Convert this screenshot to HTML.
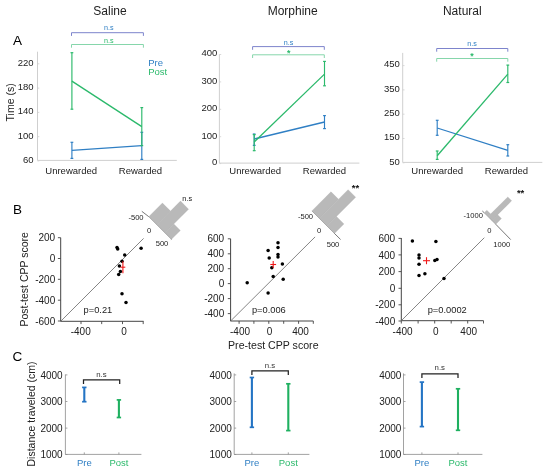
<!DOCTYPE html>
<html><head><meta charset="utf-8"><title>Figure</title>
<style>
html,body{margin:0;padding:0;background:#fff;}
svg{display:block;font-family:"Liberation Sans",Arial,sans-serif;}
</style></head><body>
<svg width="550" height="474" viewBox="0 0 550 474">
<rect width="550" height="474" fill="#fff"/>
<text x="110" y="14.9" font-size="12" text-anchor="middle" fill="#222" >Saline</text>
<text x="292.7" y="15" font-size="12" text-anchor="middle" fill="#222" >Morphine</text>
<text x="462.3" y="15" font-size="12" text-anchor="middle" fill="#222" >Natural</text>
<text x="13" y="45" font-size="13.5" text-anchor="start" fill="#000" >A</text>
<text x="13" y="214.4" font-size="13.5" text-anchor="start" fill="#000" >B</text>
<text x="12.5" y="361.3" font-size="13.5" text-anchor="start" fill="#000" >C</text>
<path d="M37.5 51.7 V160.4 H176.8" stroke="#cfcfcf" stroke-width="1" fill="none" />
<text x="33.6" y="65.6" font-size="9.5" text-anchor="end" fill="#222" >220</text>
<line x1="37.5" y1="63.8" x2="39.3" y2="63.8" stroke="#cfcfcf" stroke-width="0.8" />
<text x="33.6" y="89.89999999999999" font-size="9.5" text-anchor="end" fill="#222" >180</text>
<line x1="37.5" y1="88.1" x2="39.3" y2="88.1" stroke="#cfcfcf" stroke-width="0.8" />
<text x="33.6" y="114.2" font-size="9.5" text-anchor="end" fill="#222" >140</text>
<line x1="37.5" y1="112.4" x2="39.3" y2="112.4" stroke="#cfcfcf" stroke-width="0.8" />
<text x="33.6" y="138.5" font-size="9.5" text-anchor="end" fill="#222" >100</text>
<line x1="37.5" y1="136.7" x2="39.3" y2="136.7" stroke="#cfcfcf" stroke-width="0.8" />
<text x="33.6" y="162.70000000000002" font-size="9.5" text-anchor="end" fill="#222" >60</text>
<line x1="37.5" y1="160.9" x2="39.3" y2="160.9" stroke="#cfcfcf" stroke-width="0.8" />
<text x="71.2" y="173.8" font-size="9.5" text-anchor="middle" fill="#222" >Unrewarded</text>
<text x="140.5" y="173.8" font-size="9.5" text-anchor="middle" fill="#222" >Rewarded</text>
<line x1="71.9" y1="150.4" x2="141.8" y2="145.7" stroke="#2f7fc4" stroke-width="1.3" />
<line x1="71.9" y1="142.3" x2="71.9" y2="158.4" stroke="#2f7fc4" stroke-width="1.15" />
<line x1="70.5" y1="142.3" x2="73.30000000000001" y2="142.3" stroke="#2f7fc4" stroke-width="1.2" />
<line x1="70.5" y1="158.4" x2="73.30000000000001" y2="158.4" stroke="#2f7fc4" stroke-width="1.2" />
<line x1="141.8" y1="132.3" x2="141.8" y2="159.4" stroke="#2f7fc4" stroke-width="1.15" />
<line x1="140.4" y1="132.3" x2="143.20000000000002" y2="132.3" stroke="#2f7fc4" stroke-width="1.2" />
<line x1="140.4" y1="159.4" x2="143.20000000000002" y2="159.4" stroke="#2f7fc4" stroke-width="1.2" />
<line x1="71.9" y1="81.1" x2="141.8" y2="126.6" stroke="#2bb96b" stroke-width="1.3" />
<line x1="71.9" y1="52.7" x2="71.9" y2="109.2" stroke="#2bb96b" stroke-width="1.15" />
<line x1="70.5" y1="52.7" x2="73.30000000000001" y2="52.7" stroke="#2bb96b" stroke-width="1.2" />
<line x1="70.5" y1="109.2" x2="73.30000000000001" y2="109.2" stroke="#2bb96b" stroke-width="1.2" />
<line x1="141.8" y1="107.6" x2="141.8" y2="145.6" stroke="#2bb96b" stroke-width="1.15" />
<line x1="140.4" y1="107.6" x2="143.20000000000002" y2="107.6" stroke="#2bb96b" stroke-width="1.2" />
<line x1="140.4" y1="145.6" x2="143.20000000000002" y2="145.6" stroke="#2bb96b" stroke-width="1.2" />
<path d="M71.5 35.900000000000006 V32.7 H143.4 V35.900000000000006" stroke="#7d84cc" stroke-width="1" fill="none" />
<text x="108.8" y="30.4" font-size="7.2" text-anchor="middle" fill="#2f7fc4" >n.s</text>
<path d="M71.5 47.7 V44.5 H143.4 V47.7" stroke="#86d6ab" stroke-width="1" fill="none" />
<text x="108.8" y="42.6" font-size="7.2" text-anchor="middle" fill="#2bb96b" >n.s</text>
<path d="M219.4 54.4 V163.1 H359.4" stroke="#cfcfcf" stroke-width="1" fill="none" />
<text x="217.3" y="56.3" font-size="9.5" text-anchor="end" fill="#222" >400</text>
<line x1="219.4" y1="54.5" x2="221.20000000000002" y2="54.5" stroke="#cfcfcf" stroke-width="0.8" />
<text x="217.3" y="83.7" font-size="9.5" text-anchor="end" fill="#222" >300</text>
<line x1="219.4" y1="81.9" x2="221.20000000000002" y2="81.9" stroke="#cfcfcf" stroke-width="0.8" />
<text x="217.3" y="111.1" font-size="9.5" text-anchor="end" fill="#222" >200</text>
<line x1="219.4" y1="109.3" x2="221.20000000000002" y2="109.3" stroke="#cfcfcf" stroke-width="0.8" />
<text x="217.3" y="138.5" font-size="9.5" text-anchor="end" fill="#222" >100</text>
<line x1="219.4" y1="136.7" x2="221.20000000000002" y2="136.7" stroke="#cfcfcf" stroke-width="0.8" />
<text x="217.3" y="165.4" font-size="9.5" text-anchor="end" fill="#222" >0</text>
<line x1="219.4" y1="163.6" x2="221.20000000000002" y2="163.6" stroke="#cfcfcf" stroke-width="0.8" />
<text x="255.2" y="173.8" font-size="9.5" text-anchor="middle" fill="#222" >Unrewarded</text>
<text x="324.5" y="173.8" font-size="9.5" text-anchor="middle" fill="#222" >Rewarded</text>
<line x1="254.2" y1="139" x2="324.5" y2="122" stroke="#2f7fc4" stroke-width="1.3" />
<line x1="254.2" y1="134" x2="254.2" y2="145.4" stroke="#2f7fc4" stroke-width="1.15" />
<line x1="252.79999999999998" y1="134" x2="255.6" y2="134" stroke="#2f7fc4" stroke-width="1.2" />
<line x1="252.79999999999998" y1="145.4" x2="255.6" y2="145.4" stroke="#2f7fc4" stroke-width="1.2" />
<line x1="324.5" y1="115.6" x2="324.5" y2="128.6" stroke="#2f7fc4" stroke-width="1.15" />
<line x1="323.1" y1="115.6" x2="325.9" y2="115.6" stroke="#2f7fc4" stroke-width="1.2" />
<line x1="323.1" y1="128.6" x2="325.9" y2="128.6" stroke="#2f7fc4" stroke-width="1.2" />
<line x1="254.2" y1="142" x2="324.5" y2="74.1" stroke="#2bb96b" stroke-width="1.3" />
<line x1="254.2" y1="134.6" x2="254.2" y2="150.7" stroke="#2bb96b" stroke-width="1.15" />
<line x1="252.79999999999998" y1="134.6" x2="255.6" y2="134.6" stroke="#2bb96b" stroke-width="1.2" />
<line x1="252.79999999999998" y1="150.7" x2="255.6" y2="150.7" stroke="#2bb96b" stroke-width="1.2" />
<line x1="324.5" y1="61.4" x2="324.5" y2="85.8" stroke="#2bb96b" stroke-width="1.15" />
<line x1="323.1" y1="61.4" x2="325.9" y2="61.4" stroke="#2bb96b" stroke-width="1.2" />
<line x1="323.1" y1="85.8" x2="325.9" y2="85.8" stroke="#2bb96b" stroke-width="1.2" />
<path d="M252.6 49.800000000000004 V46.6 H324.3 V49.800000000000004" stroke="#7d84cc" stroke-width="1" fill="none" />
<text x="288.6" y="44.699999999999996" font-size="7.2" text-anchor="middle" fill="#2f7fc4" >n.s</text>
<path d="M252.6 58.0 V54.8 H324.3 V58.0" stroke="#86d6ab" stroke-width="1" fill="none" />
<text x="288.6" y="56.2" font-size="8.8" text-anchor="middle" fill="#2bb96b" font-weight="bold">*</text>
<path d="M402.7 52.9 V162.4 H542.3" stroke="#cfcfcf" stroke-width="1" fill="none" />
<text x="399.8" y="67.39999999999999" font-size="9.5" text-anchor="end" fill="#222" >450</text>
<line x1="402.7" y1="65.6" x2="404.5" y2="65.6" stroke="#cfcfcf" stroke-width="0.8" />
<text x="399.8" y="91.7" font-size="9.5" text-anchor="end" fill="#222" >350</text>
<line x1="402.7" y1="89.9" x2="404.5" y2="89.9" stroke="#cfcfcf" stroke-width="0.8" />
<text x="399.8" y="116.0" font-size="9.5" text-anchor="end" fill="#222" >250</text>
<line x1="402.7" y1="114.2" x2="404.5" y2="114.2" stroke="#cfcfcf" stroke-width="0.8" />
<text x="399.8" y="140.3" font-size="9.5" text-anchor="end" fill="#222" >150</text>
<line x1="402.7" y1="138.5" x2="404.5" y2="138.5" stroke="#cfcfcf" stroke-width="0.8" />
<text x="399.8" y="164.60000000000002" font-size="9.5" text-anchor="end" fill="#222" >50</text>
<line x1="402.7" y1="162.8" x2="404.5" y2="162.8" stroke="#cfcfcf" stroke-width="0.8" />
<text x="437.2" y="173.8" font-size="9.5" text-anchor="middle" fill="#222" >Unrewarded</text>
<text x="506.5" y="173.8" font-size="9.5" text-anchor="middle" fill="#222" >Rewarded</text>
<line x1="437.2" y1="128" x2="507.8" y2="150.4" stroke="#2f7fc4" stroke-width="1.3" />
<line x1="437.2" y1="120.3" x2="437.2" y2="135.3" stroke="#2f7fc4" stroke-width="1.15" />
<line x1="435.8" y1="120.3" x2="438.59999999999997" y2="120.3" stroke="#2f7fc4" stroke-width="1.2" />
<line x1="435.8" y1="135.3" x2="438.59999999999997" y2="135.3" stroke="#2f7fc4" stroke-width="1.2" />
<line x1="507.8" y1="144.7" x2="507.8" y2="156" stroke="#2f7fc4" stroke-width="1.15" />
<line x1="506.40000000000003" y1="144.7" x2="509.2" y2="144.7" stroke="#2f7fc4" stroke-width="1.2" />
<line x1="506.40000000000003" y1="156" x2="509.2" y2="156" stroke="#2f7fc4" stroke-width="1.2" />
<line x1="437.2" y1="155.7" x2="507.8" y2="74.1" stroke="#2bb96b" stroke-width="1.3" />
<line x1="437.2" y1="151" x2="437.2" y2="159.4" stroke="#2bb96b" stroke-width="1.15" />
<line x1="435.8" y1="151" x2="438.59999999999997" y2="151" stroke="#2bb96b" stroke-width="1.2" />
<line x1="435.8" y1="159.4" x2="438.59999999999997" y2="159.4" stroke="#2bb96b" stroke-width="1.2" />
<line x1="507.8" y1="65.1" x2="507.8" y2="82.5" stroke="#2bb96b" stroke-width="1.15" />
<line x1="506.40000000000003" y1="65.1" x2="509.2" y2="65.1" stroke="#2bb96b" stroke-width="1.2" />
<line x1="506.40000000000003" y1="82.5" x2="509.2" y2="82.5" stroke="#2bb96b" stroke-width="1.2" />
<path d="M436.7 51.7 V48.5 H507.8 V51.7" stroke="#7d84cc" stroke-width="1" fill="none" />
<text x="472.0" y="45.9" font-size="7.2" text-anchor="middle" fill="#2f7fc4" >n.s</text>
<path d="M436.7 61.7 V58.5 H507.8 V61.7" stroke="#86d6ab" stroke-width="1" fill="none" />
<text x="472.0" y="58.7" font-size="8.8" text-anchor="middle" fill="#2bb96b" font-weight="bold">*</text>
<text x="148.2" y="66.4" font-size="9.5" text-anchor="start" fill="#2f7fc4" >Pre</text>
<text x="148.2" y="75.1" font-size="9.5" text-anchor="start" fill="#2bb96b" >Post</text>
<text transform="translate(14.2,102.4) rotate(-90)" font-size="10.5" text-anchor="middle" fill="#222">Time (s)</text>
<path d="M60.7 237.7 V321.3 H143.6" stroke="#444" stroke-width="1" fill="none" />
<text x="55.2" y="241.29999999999998" font-size="10" text-anchor="end" fill="#222" >200</text>
<line x1="57.900000000000006" y1="237.7" x2="60.7" y2="237.7" stroke="#444" stroke-width="0.9" />
<text x="55.2" y="262.1" font-size="10" text-anchor="end" fill="#222" >0</text>
<line x1="57.900000000000006" y1="258.5" x2="60.7" y2="258.5" stroke="#444" stroke-width="0.9" />
<text x="55.2" y="282.90000000000003" font-size="10" text-anchor="end" fill="#222" >-200</text>
<line x1="57.900000000000006" y1="279.3" x2="60.7" y2="279.3" stroke="#444" stroke-width="0.9" />
<text x="55.2" y="303.8" font-size="10" text-anchor="end" fill="#222" >-400</text>
<line x1="57.900000000000006" y1="300.2" x2="60.7" y2="300.2" stroke="#444" stroke-width="0.9" />
<text x="55.2" y="324.6" font-size="10" text-anchor="end" fill="#222" >-600</text>
<line x1="57.900000000000006" y1="321" x2="60.7" y2="321" stroke="#444" stroke-width="0.9" />
<line x1="81" y1="321.3" x2="81" y2="324.1" stroke="#444" stroke-width="0.9" />
<line x1="101.7" y1="321.3" x2="101.7" y2="324.1" stroke="#444" stroke-width="0.9" />
<line x1="122.5" y1="321.3" x2="122.5" y2="324.1" stroke="#444" stroke-width="0.9" />
<line x1="143.2" y1="321.3" x2="143.2" y2="324.1" stroke="#444" stroke-width="0.9" />
<text x="80.7" y="334.7" font-size="10" text-anchor="middle" fill="#222" >-400</text>
<text x="124" y="334.7" font-size="10" text-anchor="middle" fill="#222" >0</text>
<line x1="60.7" y1="321.3" x2="143.6" y2="238.4" stroke="#666" stroke-width="0.8" />
<circle cx="117" cy="247.6" r="1.75" fill="#000"/>
<circle cx="117.7" cy="248.9" r="1.75" fill="#000"/>
<circle cx="124.7" cy="254.9" r="1.75" fill="#000"/>
<circle cx="141.1" cy="248.2" r="1.75" fill="#000"/>
<circle cx="122" cy="261.3" r="1.75" fill="#000"/>
<circle cx="119.4" cy="266" r="1.75" fill="#000"/>
<circle cx="120.4" cy="271.6" r="1.75" fill="#000"/>
<circle cx="118.7" cy="274.6" r="1.75" fill="#000"/>
<circle cx="122" cy="293.7" r="1.75" fill="#000"/>
<circle cx="126" cy="302.4" r="1.75" fill="#000"/>
<line x1="120.5" y1="267.2" x2="125.30000000000001" y2="267.2" stroke="#f01818" stroke-width="1.1" />
<line x1="122.9" y1="261.2" x2="122.9" y2="273.2" stroke="#f01818" stroke-width="1.1" />
<text x="83.6" y="313" font-size="9.3" text-anchor="start" fill="#222" >p=0.21</text>
<polygon points="148.8,216.7 162.4,203.1 170.5,211.1 156.9,224.8" fill="#b9b9b9" stroke="#a8a8a8" stroke-width="0.3"/>
<polygon points="156.9,224.8 180.5,201.1 188.5,209.2 164.9,232.8" fill="#b9b9b9" stroke="#a8a8a8" stroke-width="0.3"/>
<polygon points="164.9,232.8 173.8,224.0 180.3,230.5 171.4,239.3" fill="#b9b9b9" stroke="#a8a8a8" stroke-width="0.3"/>
<line x1="141.8" y1="211.3" x2="148.8" y2="216.7" stroke="#555" stroke-width="0.8" />
<line x1="148.8" y1="216.7" x2="171.42741699796952" y2="239.3274169979695" stroke="#999" stroke-width="0.6" />
<line x1="171.42741699796952" y1="239.3274169979695" x2="170.9" y2="239.6" stroke="#555" stroke-width="0.8" />
<text x="136" y="220.2" font-size="7.6" text-anchor="middle" fill="#222" >-500</text>
<text x="149.1" y="233.2" font-size="7.6" text-anchor="middle" fill="#222" >0</text>
<text x="162" y="246.0" font-size="7.6" text-anchor="middle" fill="#222" >500</text>
<text x="187.2" y="201" font-size="7.3" text-anchor="middle" fill="#111" >n.s</text>
<path d="M230.6 238.8 V321 H313.3" stroke="#444" stroke-width="1" fill="none" />
<text x="224.2" y="242.4" font-size="10" text-anchor="end" fill="#222" >600</text>
<line x1="227.79999999999998" y1="238.8" x2="230.6" y2="238.8" stroke="#444" stroke-width="0.9" />
<text x="224.2" y="257.40000000000003" font-size="10" text-anchor="end" fill="#222" >400</text>
<line x1="227.79999999999998" y1="253.8" x2="230.6" y2="253.8" stroke="#444" stroke-width="0.9" />
<text x="224.2" y="272.3" font-size="10" text-anchor="end" fill="#222" >200</text>
<line x1="227.79999999999998" y1="268.7" x2="230.6" y2="268.7" stroke="#444" stroke-width="0.9" />
<text x="224.2" y="287.20000000000005" font-size="10" text-anchor="end" fill="#222" >0</text>
<line x1="227.79999999999998" y1="283.6" x2="230.6" y2="283.6" stroke="#444" stroke-width="0.9" />
<text x="224.2" y="302.20000000000005" font-size="10" text-anchor="end" fill="#222" >-200</text>
<line x1="227.79999999999998" y1="298.6" x2="230.6" y2="298.6" stroke="#444" stroke-width="0.9" />
<text x="224.2" y="317.20000000000005" font-size="10" text-anchor="end" fill="#222" >-400</text>
<line x1="227.79999999999998" y1="313.6" x2="230.6" y2="313.6" stroke="#444" stroke-width="0.9" />
<line x1="239.1" y1="321" x2="239.1" y2="323.8" stroke="#444" stroke-width="0.9" />
<line x1="253.9" y1="321" x2="253.9" y2="323.8" stroke="#444" stroke-width="0.9" />
<line x1="268.8" y1="321" x2="268.8" y2="323.8" stroke="#444" stroke-width="0.9" />
<line x1="283.7" y1="321" x2="283.7" y2="323.8" stroke="#444" stroke-width="0.9" />
<line x1="298.6" y1="321" x2="298.6" y2="323.8" stroke="#444" stroke-width="0.9" />
<line x1="313.3" y1="321" x2="313.3" y2="323.8" stroke="#444" stroke-width="0.9" />
<text x="240.0" y="334.7" font-size="10" text-anchor="middle" fill="#222" >-400</text>
<text x="269.6" y="334.7" font-size="10" text-anchor="middle" fill="#222" >0</text>
<text x="300.6" y="334.7" font-size="10" text-anchor="middle" fill="#222" >400</text>
<line x1="230.6" y1="321" x2="315.1" y2="236.9" stroke="#666" stroke-width="0.8" />
<circle cx="247.2" cy="282.8" r="1.75" fill="#000"/>
<circle cx="268.1" cy="250.5" r="1.75" fill="#000"/>
<circle cx="269.2" cy="257.9" r="1.75" fill="#000"/>
<circle cx="278" cy="242.8" r="1.75" fill="#000"/>
<circle cx="278" cy="247.6" r="1.75" fill="#000"/>
<circle cx="278" cy="254.5" r="1.75" fill="#000"/>
<circle cx="278" cy="257.1" r="1.75" fill="#000"/>
<circle cx="282.4" cy="264.1" r="1.75" fill="#000"/>
<circle cx="271.8" cy="267.8" r="1.75" fill="#000"/>
<circle cx="273.2" cy="276.6" r="1.75" fill="#000"/>
<circle cx="283.2" cy="279.2" r="1.75" fill="#000"/>
<circle cx="268.1" cy="293.1" r="1.75" fill="#000"/>
<line x1="270.3" y1="264.5" x2="276.09999999999997" y2="264.5" stroke="#f01818" stroke-width="1.1" />
<line x1="273.2" y1="261.1" x2="273.2" y2="267.9" stroke="#f01818" stroke-width="1.1" />
<text x="251.9" y="313" font-size="9.3" text-anchor="start" fill="#222" >p=0.006</text>
<polygon points="311.9,210.9 331.0,191.8 338.5,199.3 319.4,218.4" fill="#b9b9b9" stroke="#a8a8a8" stroke-width="0.3"/>
<polygon points="319.4,218.4 348.1,189.7 355.6,197.2 326.9,225.9" fill="#b9b9b9" stroke="#a8a8a8" stroke-width="0.3"/>
<polygon points="326.9,225.9 336.4,216.4 343.9,223.9 334.4,233.4" fill="#b9b9b9" stroke="#a8a8a8" stroke-width="0.3"/>
<line x1="311.9" y1="210.9" x2="311.9" y2="210.9" stroke="#555" stroke-width="0.8" />
<line x1="311.9" y1="210.9" x2="334.38599564173217" y2="233.3859956417322" stroke="#999" stroke-width="0.6" />
<line x1="334.38599564173217" y1="233.3859956417322" x2="340.6" y2="239.5" stroke="#555" stroke-width="0.8" />
<text x="305.5" y="219.2" font-size="7.6" text-anchor="middle" fill="#222" >-500</text>
<text x="319" y="232.7" font-size="7.6" text-anchor="middle" fill="#222" >0</text>
<text x="333" y="246.5" font-size="7.6" text-anchor="middle" fill="#222" >500</text>
<text x="355.4" y="191.3" font-size="9.5" text-anchor="middle" fill="#111" font-weight="bold">**</text>
<path d="M401.3 238 V320.7 H483.5" stroke="#444" stroke-width="1" fill="none" />
<text x="395.2" y="242.0" font-size="10" text-anchor="end" fill="#222" >600</text>
<line x1="398.5" y1="238.4" x2="401.3" y2="238.4" stroke="#444" stroke-width="0.9" />
<text x="395.2" y="258.5" font-size="10" text-anchor="end" fill="#222" >400</text>
<line x1="398.5" y1="254.9" x2="401.3" y2="254.9" stroke="#444" stroke-width="0.9" />
<text x="395.2" y="275.20000000000005" font-size="10" text-anchor="end" fill="#222" >200</text>
<line x1="398.5" y1="271.6" x2="401.3" y2="271.6" stroke="#444" stroke-width="0.9" />
<text x="395.2" y="291.90000000000003" font-size="10" text-anchor="end" fill="#222" >0</text>
<line x1="398.5" y1="288.3" x2="401.3" y2="288.3" stroke="#444" stroke-width="0.9" />
<text x="395.2" y="308.40000000000003" font-size="10" text-anchor="end" fill="#222" >-200</text>
<line x1="398.5" y1="304.8" x2="401.3" y2="304.8" stroke="#444" stroke-width="0.9" />
<text x="395.2" y="324.6" font-size="10" text-anchor="end" fill="#222" >-400</text>
<line x1="398.5" y1="321" x2="401.3" y2="321" stroke="#444" stroke-width="0.9" />
<line x1="401.3" y1="320.7" x2="401.3" y2="323.5" stroke="#444" stroke-width="0.9" />
<line x1="418.1" y1="320.7" x2="418.1" y2="323.5" stroke="#444" stroke-width="0.9" />
<line x1="434.7" y1="320.7" x2="434.7" y2="323.5" stroke="#444" stroke-width="0.9" />
<line x1="451.2" y1="320.7" x2="451.2" y2="323.5" stroke="#444" stroke-width="0.9" />
<line x1="467.7" y1="320.7" x2="467.7" y2="323.5" stroke="#444" stroke-width="0.9" />
<line x1="483.5" y1="320.7" x2="483.5" y2="323.5" stroke="#444" stroke-width="0.9" />
<text x="402.6" y="334.7" font-size="10" text-anchor="middle" fill="#222" >-400</text>
<text x="435.7" y="334.7" font-size="10" text-anchor="middle" fill="#222" >0</text>
<text x="468.7" y="334.7" font-size="10" text-anchor="middle" fill="#222" >400</text>
<line x1="401.3" y1="320.7" x2="484.3" y2="237.7" stroke="#666" stroke-width="0.8" />
<circle cx="412.4" cy="241.1" r="1.75" fill="#000"/>
<circle cx="435.9" cy="241.5" r="1.75" fill="#000"/>
<circle cx="419.0" cy="255.0" r="1.75" fill="#000"/>
<circle cx="419.0" cy="258.0" r="1.75" fill="#000"/>
<circle cx="419.0" cy="264.2" r="1.75" fill="#000"/>
<circle cx="419.0" cy="275.6" r="1.75" fill="#000"/>
<circle cx="424.9" cy="273.8" r="1.75" fill="#000"/>
<circle cx="434.8" cy="260.6" r="1.75" fill="#000"/>
<circle cx="437.0" cy="259.5" r="1.75" fill="#000"/>
<circle cx="444.0" cy="278.6" r="1.75" fill="#000"/>
<line x1="423.0" y1="260.7" x2="430.0" y2="260.7" stroke="#f01818" stroke-width="1.1" />
<line x1="426.5" y1="257.2" x2="426.5" y2="264.2" stroke="#f01818" stroke-width="1.1" />
<text x="427.7" y="313" font-size="9.3" text-anchor="start" fill="#222" >p=0.0002</text>
<polygon points="484.3,212.8 486.8,210.3 490.7,214.1 488.1,216.6" fill="#b9b9b9" stroke="#a8a8a8" stroke-width="0.3"/>
<polygon points="488.1,216.6 507.8,197.0 511.6,200.8 491.9,220.4" fill="#b9b9b9" stroke="#a8a8a8" stroke-width="0.3"/>
<polygon points="491.9,220.4 497.6,214.8 501.4,218.6 495.8,224.3" fill="#b9b9b9" stroke="#a8a8a8" stroke-width="0.3"/>
<line x1="482.3" y1="211" x2="484.3" y2="212.8" stroke="#555" stroke-width="0.8" />
<line x1="484.3" y1="212.8" x2="495.75512985522204" y2="224.25512985522212" stroke="#999" stroke-width="0.6" />
<line x1="495.75512985522204" y1="224.25512985522212" x2="510.7" y2="239.6" stroke="#555" stroke-width="0.8" />
<text x="473.2" y="218.4" font-size="7.6" text-anchor="middle" fill="#222" >-1000</text>
<text x="489.3" y="232.7" font-size="7.6" text-anchor="middle" fill="#222" >0</text>
<text x="501.8" y="246.7" font-size="7.6" text-anchor="middle" fill="#222" >1000</text>
<text x="520.6" y="196" font-size="9.5" text-anchor="middle" fill="#111" font-weight="bold">**</text>
<text transform="translate(27.5,279.3) rotate(-90)" font-size="10.5" text-anchor="middle" fill="#222">Post-test CPP score</text>
<text x="273.3" y="348.5" font-size="10.6" text-anchor="middle" fill="#222" >Pre-test CPP score</text>
<path d="M65.4 374.5 V454.4 H141.4" stroke="#8a8a8a" stroke-width="0.8" fill="none" />
<text x="62.7" y="378.5" font-size="10" text-anchor="end" fill="#222" >4000</text>
<line x1="65.4" y1="374.9" x2="67.4" y2="374.9" stroke="#8a8a8a" stroke-width="0.8" />
<text x="62.7" y="405.1" font-size="10" text-anchor="end" fill="#222" >3000</text>
<line x1="65.4" y1="401.5" x2="67.4" y2="401.5" stroke="#8a8a8a" stroke-width="0.8" />
<text x="62.7" y="431.70000000000005" font-size="10" text-anchor="end" fill="#222" >2000</text>
<line x1="65.4" y1="428.1" x2="67.4" y2="428.1" stroke="#8a8a8a" stroke-width="0.8" />
<text x="62.7" y="458.1" font-size="10" text-anchor="end" fill="#222" >1000</text>
<line x1="65.4" y1="454.5" x2="67.4" y2="454.5" stroke="#8a8a8a" stroke-width="0.8" />
<line x1="84.3" y1="454.4" x2="84.3" y2="452.4" stroke="#8a8a8a" stroke-width="0.8" />
<line x1="118.9" y1="454.4" x2="118.9" y2="452.4" stroke="#8a8a8a" stroke-width="0.8" />
<line x1="84.3" y1="387.4" x2="84.3" y2="401.7" stroke="#2474c4" stroke-width="2.1" />
<line x1="82.1" y1="387.4" x2="86.5" y2="387.4" stroke="#2474c4" stroke-width="1.7" />
<line x1="82.1" y1="401.7" x2="86.5" y2="401.7" stroke="#2474c4" stroke-width="1.7" />
<line x1="118.9" y1="399.9" x2="118.9" y2="417.5" stroke="#1fb060" stroke-width="2.1" />
<line x1="116.7" y1="399.9" x2="121.10000000000001" y2="399.9" stroke="#1fb060" stroke-width="1.7" />
<line x1="116.7" y1="417.5" x2="121.10000000000001" y2="417.5" stroke="#1fb060" stroke-width="1.7" />
<path d="M83.5 384.09999999999997 V379.9 H119.7 V384.09999999999997" stroke="#222" stroke-width="1.25" fill="none" />
<text x="101.39999999999999" y="377.2" font-size="7.8" text-anchor="middle" fill="#333" >n.s</text>
<text x="84.3" y="466" font-size="9.5" text-anchor="middle" fill="#2f7fc4" >Pre</text>
<text x="118.9" y="466" font-size="9.5" text-anchor="middle" fill="#2bb96b" >Post</text>
<path d="M234.2 373.4 V454.4 H309.4" stroke="#8a8a8a" stroke-width="0.8" fill="none" />
<text x="231.8" y="378.5" font-size="10" text-anchor="end" fill="#222" >4000</text>
<line x1="234.2" y1="374.9" x2="236.2" y2="374.9" stroke="#8a8a8a" stroke-width="0.8" />
<text x="231.8" y="405.1" font-size="10" text-anchor="end" fill="#222" >3000</text>
<line x1="234.2" y1="401.5" x2="236.2" y2="401.5" stroke="#8a8a8a" stroke-width="0.8" />
<text x="231.8" y="431.70000000000005" font-size="10" text-anchor="end" fill="#222" >2000</text>
<line x1="234.2" y1="428.1" x2="236.2" y2="428.1" stroke="#8a8a8a" stroke-width="0.8" />
<text x="231.8" y="458.1" font-size="10" text-anchor="end" fill="#222" >1000</text>
<line x1="234.2" y1="454.5" x2="236.2" y2="454.5" stroke="#8a8a8a" stroke-width="0.8" />
<line x1="251.9" y1="454.4" x2="251.9" y2="452.4" stroke="#8a8a8a" stroke-width="0.8" />
<line x1="288.3" y1="454.4" x2="288.3" y2="452.4" stroke="#8a8a8a" stroke-width="0.8" />
<line x1="251.9" y1="377.5" x2="251.9" y2="427.3" stroke="#2474c4" stroke-width="2.1" />
<line x1="249.70000000000002" y1="377.5" x2="254.1" y2="377.5" stroke="#2474c4" stroke-width="1.7" />
<line x1="249.70000000000002" y1="427.3" x2="254.1" y2="427.3" stroke="#2474c4" stroke-width="1.7" />
<line x1="288.3" y1="383.8" x2="288.3" y2="430.6" stroke="#1fb060" stroke-width="2.1" />
<line x1="286.1" y1="383.8" x2="290.5" y2="383.8" stroke="#1fb060" stroke-width="1.7" />
<line x1="286.1" y1="430.6" x2="290.5" y2="430.6" stroke="#1fb060" stroke-width="1.7" />
<path d="M251.9 375.0 V370.8 H288.3 V375.0" stroke="#222" stroke-width="1.25" fill="none" />
<text x="269.90000000000003" y="367.5" font-size="7.8" text-anchor="middle" fill="#333" >n.s</text>
<text x="251.9" y="466" font-size="9.5" text-anchor="middle" fill="#2f7fc4" >Pre</text>
<text x="288.3" y="466" font-size="9.5" text-anchor="middle" fill="#2bb96b" >Post</text>
<path d="M403.5 373.4 V454.4 H482.4" stroke="#8a8a8a" stroke-width="0.8" fill="none" />
<text x="401.4" y="378.5" font-size="10" text-anchor="end" fill="#222" >4000</text>
<line x1="403.5" y1="374.9" x2="405.5" y2="374.9" stroke="#8a8a8a" stroke-width="0.8" />
<text x="401.4" y="405.1" font-size="10" text-anchor="end" fill="#222" >3000</text>
<line x1="403.5" y1="401.5" x2="405.5" y2="401.5" stroke="#8a8a8a" stroke-width="0.8" />
<text x="401.4" y="431.70000000000005" font-size="10" text-anchor="end" fill="#222" >2000</text>
<line x1="403.5" y1="428.1" x2="405.5" y2="428.1" stroke="#8a8a8a" stroke-width="0.8" />
<text x="401.4" y="458.1" font-size="10" text-anchor="end" fill="#222" >1000</text>
<line x1="403.5" y1="454.5" x2="405.5" y2="454.5" stroke="#8a8a8a" stroke-width="0.8" />
<line x1="421.9" y1="454.4" x2="421.9" y2="452.4" stroke="#8a8a8a" stroke-width="0.8" />
<line x1="458" y1="454.4" x2="458" y2="452.4" stroke="#8a8a8a" stroke-width="0.8" />
<line x1="421.9" y1="382.1" x2="421.9" y2="426.6" stroke="#2474c4" stroke-width="2.1" />
<line x1="419.7" y1="382.1" x2="424.09999999999997" y2="382.1" stroke="#2474c4" stroke-width="1.7" />
<line x1="419.7" y1="426.6" x2="424.09999999999997" y2="426.6" stroke="#2474c4" stroke-width="1.7" />
<line x1="458" y1="388.8" x2="458" y2="430.3" stroke="#1fb060" stroke-width="2.1" />
<line x1="455.8" y1="388.8" x2="460.2" y2="388.8" stroke="#1fb060" stroke-width="1.7" />
<line x1="455.8" y1="430.3" x2="460.2" y2="430.3" stroke="#1fb060" stroke-width="1.7" />
<path d="M421.9 378.09999999999997 V373.9 H458.0 V378.09999999999997" stroke="#222" stroke-width="1.25" fill="none" />
<text x="439.75" y="370.3" font-size="7.8" text-anchor="middle" fill="#333" >n.s</text>
<text x="421.9" y="466" font-size="9.5" text-anchor="middle" fill="#2f7fc4" >Pre</text>
<text x="458" y="466" font-size="9.5" text-anchor="middle" fill="#2bb96b" >Post</text>
<text transform="translate(34.8,414) rotate(-90)" font-size="10.5" text-anchor="middle" fill="#222">Distance traveled (cm)</text>
</svg>
</body></html>
